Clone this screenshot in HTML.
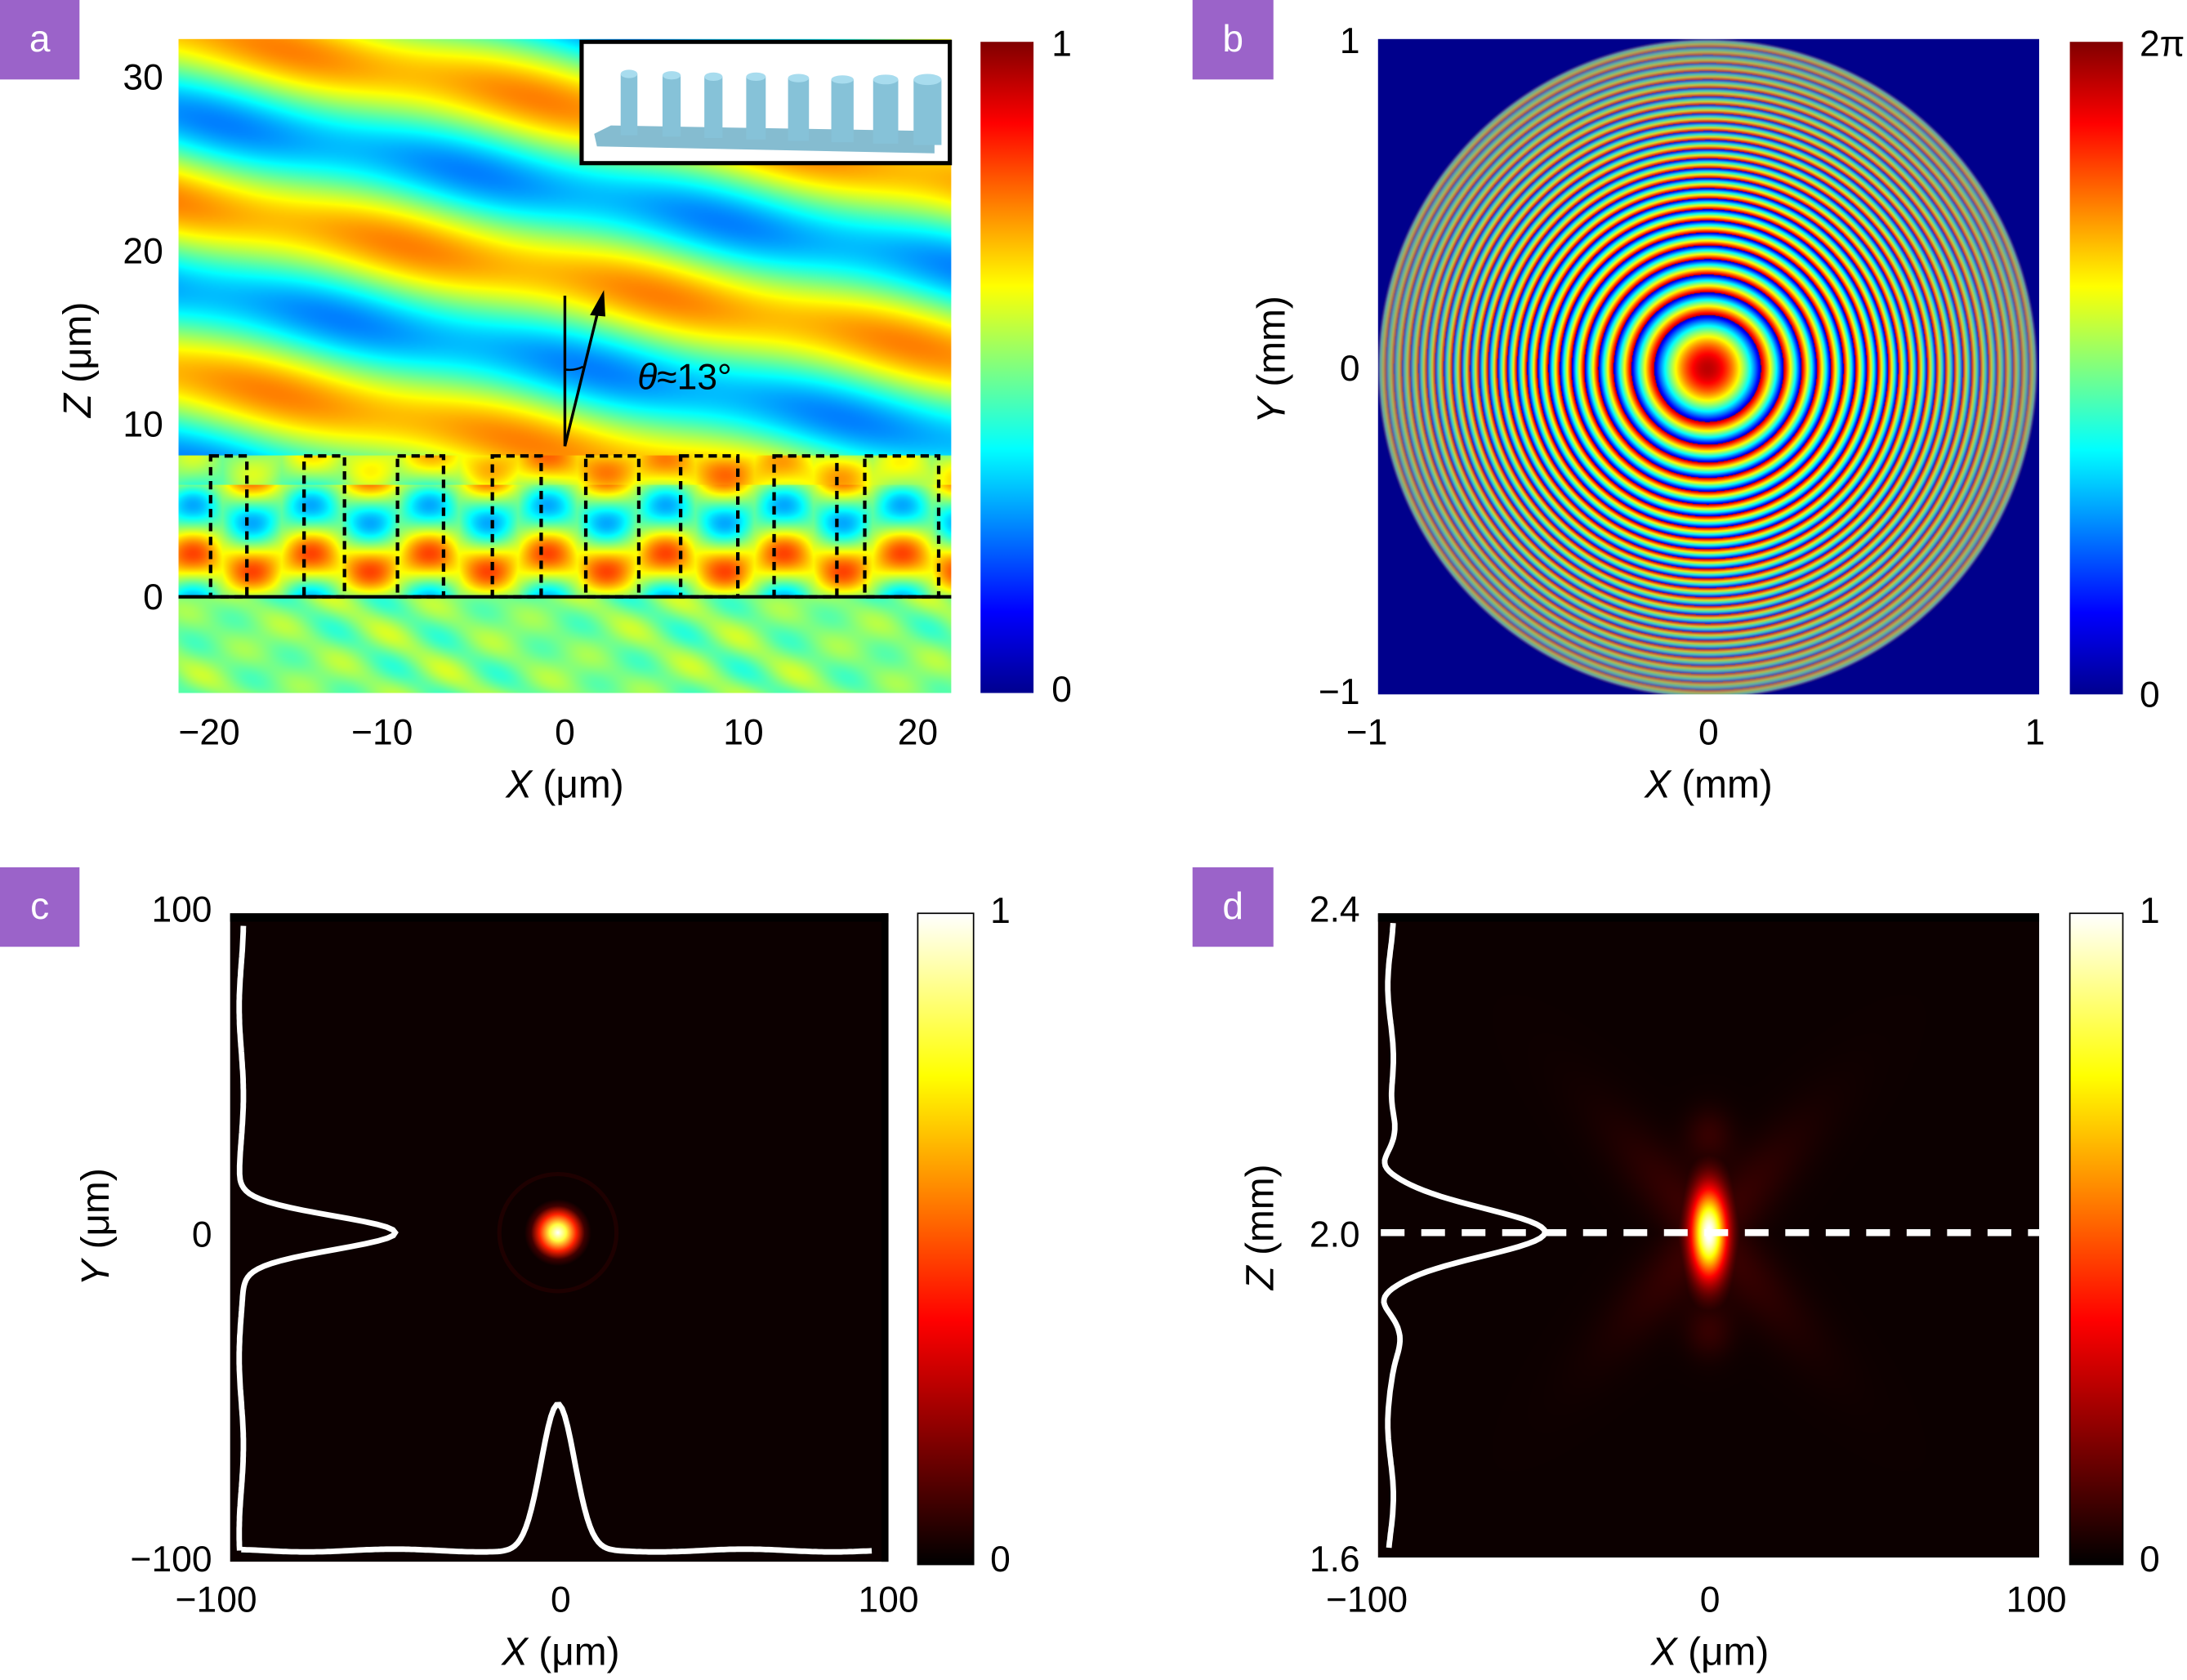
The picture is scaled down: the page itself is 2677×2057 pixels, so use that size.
<!DOCTYPE html>
<html><head><meta charset="utf-8"><style>
html,body{margin:0;padding:0;background:#fff;width:2677px;height:2057px;overflow:hidden}
#w{position:absolute;left:0;top:0;width:1568px;height:1205px;transform:scale(1.70727);transform-origin:0 0;font-family:"Liberation Sans",Arial,sans-serif}
canvas{position:absolute}
svg{position:absolute;left:0;top:0}
</style></head><body><div id="w">
<canvas id="ca" style="left:128px;top:28px;width:554px;height:469px" width="946" height="801"></canvas>
<canvas id="cb" style="left:988px;top:28px;width:474px;height:470px" width="809" height="802"></canvas>
<canvas id="cd" style="left:988px;top:655px;width:474px;height:462px" width="809" height="789"></canvas>
<svg width="1568" height="1205" viewBox="0 0 1568 1205">
<defs>
<linearGradient id="jet" x1="0" y1="1" x2="0" y2="0">
<stop offset="0" stop-color="#00008f"/><stop offset="0.125" stop-color="#0000ff"/><stop offset="0.375" stop-color="#00ffff"/><stop offset="0.625" stop-color="#ffff00"/><stop offset="0.875" stop-color="#ff0000"/><stop offset="1" stop-color="#800000"/></linearGradient>
<linearGradient id="hot" x1="0" y1="1" x2="0" y2="0">
<stop offset="0" stop-color="#000"/><stop offset="0.375" stop-color="#ff0000"/><stop offset="0.75" stop-color="#ffff00"/><stop offset="1" stop-color="#fff"/></linearGradient>
<radialGradient id="spot"><stop offset="0" stop-color="#fff"/><stop offset="0.25" stop-color="#ffff40"/><stop offset="0.55" stop-color="#ff2000"/><stop offset="0.8" stop-color="#400000"/><stop offset="1" stop-color="#0c0000"/></radialGradient>
</defs>
<g font-size="26" fill="#000">
<!-- panel a -->
<rect x="0" y="0" width="57" height="57" fill="#9b63c9"/><text x="28.5" y="37" fill="#fff" text-anchor="middle" font-size="27">a</text>
<g stroke="#000" stroke-width="2.5" stroke-dasharray="6,4" fill="none">
<rect x="151" y="327" width="26" height="101"/><rect x="218" y="327" width="29" height="101"/><rect x="285" y="327" width="33" height="101"/><rect x="353" y="327" width="35" height="101"/><rect x="420" y="327" width="38" height="101"/><rect x="488" y="327" width="41" height="101"/><rect x="555" y="327" width="45" height="101"/><rect x="620" y="327" width="53" height="101"/></g>
<line x1="128" y1="428" x2="682" y2="428" stroke="#000" stroke-width="2.5"/>
<rect x="417" y="30" width="264" height="87" fill="#fff" stroke="#000" stroke-width="3"/>
<polygon points="426,96 438,90 670,94 670,110 428,105" fill="#85bcd0"/>
<g fill="#86c2d8"><rect x="445" y="53" width="12" height="44"/><rect x="475" y="54" width="13" height="44"/><rect x="505" y="55" width="13" height="44"/><rect x="535" y="55" width="14" height="45"/><rect x="565" y="56" width="15" height="45"/><rect x="596" y="57" width="16" height="45"/><rect x="626" y="57" width="18" height="46"/><rect x="655" y="57" width="20" height="47"/></g>
<g fill="#a8dcee"><ellipse cx="451" cy="53" rx="6" ry="3"/><ellipse cx="481.5" cy="54" rx="6.5" ry="3"/><ellipse cx="511.5" cy="55" rx="6.5" ry="3"/><ellipse cx="542" cy="55" rx="7" ry="3"/><ellipse cx="572.5" cy="56" rx="7.5" ry="3"/><ellipse cx="604" cy="57" rx="8" ry="3"/><ellipse cx="635" cy="57" rx="9" ry="3.5"/><ellipse cx="665" cy="57" rx="10" ry="4"/></g>
<line x1="405" y1="320" x2="405" y2="212" stroke="#000" stroke-width="2"/>
<line x1="405" y1="320" x2="429" y2="222" stroke="#000" stroke-width="2"/>
<polygon points="433,208 423,226 434,227" fill="#000"/>
<path d="M405,265 Q412,266 418,263" stroke="#000" stroke-width="1.5" fill="none"/>
<text x="457" y="279"><tspan font-style="italic">θ</tspan>≈13°</text>
<rect x="703" y="30" width="38" height="467" fill="url(#jet)"/>
<text x="754" y="40">1</text><text x="754" y="503">0</text>
<g text-anchor="end"><text x="117" y="64">30</text><text x="117" y="189">20</text><text x="117" y="313">10</text><text x="117" y="437">0</text></g>
<g text-anchor="middle"><text x="150" y="534">−20</text><text x="274" y="534">−10</text><text x="405" y="534">0</text><text x="533" y="534">10</text><text x="658" y="534">20</text>
<text x="405" y="572" font-size="28"><tspan font-style="italic">X</tspan> (μm)</text>
<text transform="translate(65,258) rotate(-90)" font-size="28"><tspan font-style="italic">Z</tspan> (μm)</text></g>
<!-- panel b -->
<rect x="855" y="0" width="58" height="57" fill="#9b63c9"/><text x="884" y="37" fill="#fff" text-anchor="middle" font-size="27">b</text>
<rect x="1484" y="30" width="38" height="468" fill="url(#jet)"/>
<text x="1534" y="40">2π</text><text x="1534" y="507">0</text>
<g text-anchor="end"><text x="975" y="38">1</text><text x="975" y="273">0</text><text x="975" y="505">−1</text></g>
<g text-anchor="middle"><text x="980" y="534">−1</text><text x="1225" y="534">0</text><text x="1459" y="534">1</text>
<text x="1225" y="572" font-size="28"><tspan font-style="italic">X</tspan> (mm)</text>
<text transform="translate(921,258) rotate(-90)" font-size="28"><tspan font-style="italic">Y</tspan> (mm)</text></g>
<!-- panel c -->
<rect x="0" y="622" width="57" height="57" fill="#9b63c9"/><text x="28.5" y="659" fill="#fff" text-anchor="middle" font-size="27">c</text>
<rect x="165" y="655" width="472" height="465" fill="#0c0000"/>
<rect x="165" y="655" width="472" height="6" fill="#000"/><rect x="632" y="655" width="5" height="465" fill="#000"/>
<circle cx="400" cy="884" r="42" fill="none" stroke="#1e0000" stroke-width="3"/>
<circle cx="400" cy="884" r="24" fill="url(#spot)"/>
<path id="pcv" fill="none" stroke="#fff" stroke-width="4"/>
<path id="pch" fill="none" stroke="#fff" stroke-width="4"/>
<rect x="658" y="655" width="40" height="467" fill="url(#hot)" stroke="#000" stroke-width="1"/>
<text x="710" y="662">1</text><text x="710" y="1127">0</text>
<g text-anchor="end"><text x="152" y="661">100</text><text x="152" y="894">0</text><text x="152" y="1127">−100</text></g>
<g text-anchor="middle"><text x="155" y="1156">−100</text><text x="402" y="1156">0</text><text x="637" y="1156">100</text>
<text x="402" y="1194" font-size="28"><tspan font-style="italic">X</tspan> (μm)</text>
<text transform="translate(78,880) rotate(-90)" font-size="28"><tspan font-style="italic">Y</tspan> (μm)</text></g>
<!-- panel d -->
<rect x="855" y="622" width="58" height="57" fill="#9b63c9"/><text x="884" y="659" fill="#fff" text-anchor="middle" font-size="27">d</text>
<rect x="988" y="655" width="474" height="6" fill="#000"/>
<line x1="990" y1="884" x2="1462" y2="884" stroke="#fff" stroke-width="5" stroke-dasharray="17,12"/>
<path id="pdv" fill="none" stroke="#fff" stroke-width="4"/>
<rect x="1484" y="655" width="38" height="467" fill="url(#hot)" stroke="#000" stroke-width="1"/>
<text x="1534" y="662">1</text><text x="1534" y="1127">0</text>
<g text-anchor="end"><text x="975" y="661">2.4</text><text x="975" y="894">2.0</text><text x="975" y="1127">1.6</text></g>
<g text-anchor="middle"><text x="980" y="1156">−100</text><text x="1226" y="1156">0</text><text x="1460" y="1156">100</text>
<text x="1226" y="1194" font-size="28"><tspan font-style="italic">X</tspan> (μm)</text>
<text transform="translate(913,880) rotate(-90)" font-size="28"><tspan font-style="italic">Z</tspan> (mm)</text></g>
</g></svg></div>
<script>
function jet(v){v=Math.max(0,Math.min(1,v));var r=Math.min(4*v-1.5,-4*v+4.5),g=Math.min(4*v-0.5,-4*v+3.5),b=Math.min(4*v+0.5,-4*v+2.5);
return [255*Math.max(0,Math.min(1,r)),255*Math.max(0,Math.min(1,g)),255*Math.max(0,Math.min(1,b))];}
function hot(v){v=Math.max(0,Math.min(1,v));return [255*Math.min(1,v/0.375),255*Math.max(0,Math.min(1,(v-0.375)/0.375)),255*Math.max(0,(v-0.75)/0.25)];}
// panel a
(function(){var c=document.getElementById('ca'),W=c.width,H=c.height,x=c.getContext('2d'),im=x.createImageData(W,H),d=im.data;
function wave(X,z){var u=z+0.2*X;return 0.5+0.22*Math.cos(2*Math.PI*(u-8.5)/10)+0.03*Math.sin(X*0.5+z*0.3);}
for(var j=0;j<H;j++){var py=j/H*469+28;var z=(428-py)/12.4;
for(var i=0;i<W;i++){var px=i/W*554+128;var X=(px-405)/12.65;var v;
if(z>8.2){v=wave(X,z);}
else if(z>0){var ph=Math.cos(2*Math.PI*(X+1)/6.7);v=0.55+0.36*(0.6*Math.cos(2*Math.PI*(z-2)/5.6)*(0.4+0.6*Math.abs(ph))+0.4*ph*Math.sin(2*Math.PI*(z-2)/5.6));
if(z>6.5)v=v*0.6+0.4*wave(X,z);}
else{v=0.5+0.05*Math.cos(2*Math.PI*X/6.7)*Math.cos(z*1.5)+0.04*Math.sin(X*1.3+z*2);}
var col=jet(v),k=4*(j*W+i);d[k]=col[0];d[k+1]=col[1];d[k+2]=col[2];d[k+3]=255;}}
x.putImageData(im,0,0);})();
// panel b
(function(){var c=document.getElementById('cb'),W=c.width,H=c.height,x=c.getContext('2d'),im=x.createImageData(W,H),d=im.data;
var f=150,lam=1444/(2*f);
for(var j=0;j<H;j++){var py=j/H*470+28;for(var i=0;i<W;i++){var px=i/W*474+988;var dx=px-1224,dy=py-264,r=Math.sqrt(dx*dx+dy*dy);var k=4*(j*W+i),col;
if(r>237){col=[0,0,140];}else{var p=(Math.sqrt(r*r+f*f)-f)/lam;var ph=1-(p%1);ph=ph*0.88+0.06;col=jet(ph);var m=Math.max(0,Math.min(1,(r-100)/137));m=Math.pow(m,1.5)*0.75;
col=[col[0]*(1-m)+138*m,col[1]*(1-m)+140*m,col[2]*(1-m)+125*m];if(r>235){var t=(r-235)/2;col=[col[0]*(1-t),col[1]*(1-t),col[2]*(1-t)+140*t];}}
d[k]=col[0];d[k+1]=col[1];d[k+2]=col[2];d[k+3]=255;}}
x.putImageData(im,0,0);})();
// panel d
(function(){var c=document.getElementById('cd'),W=c.width,H=c.height,x=c.getContext('2d'),im=x.createImageData(W,H),d=im.data;
for(var j=0;j<H;j++){var py=j/H*462+655;for(var i=0;i<W;i++){var px=i/W*474+988;var dx=px-1225,dy=py-884;
var v=Math.exp(-(dx*dx)/(2*9*9)-(dy*dy)/(2*22*22));
var ad=Math.abs(Math.abs(dx)-Math.abs(dy)*0.9);var cr=0.07*Math.exp(-ad*ad/(2*22*22))*Math.exp(-(dx*dx+dy*dy)/(2*70*70));
var side=0.06*Math.exp(-(dx*dx)/(2*12*12)-Math.pow(Math.abs(dy)-70,2)/(2*14*14));
v=Math.max(v,cr+side)+0.018;
var col=hot(v);var k=4*(j*W+i);d[k]=col[0];d[k+1]=col[1];d[k+2]=col[2];d[k+3]=255;}}
x.putImageData(im,0,0);})();
// curves
(function(){var s='';for(var y=664;y<=1112;y+=2){var t=y-884;var xv=173+110*Math.exp(-t*t/(2*12*12))+1.5*Math.sin(y*0.05);s+=(s?'L':'M')+xv.toFixed(1)+','+y;}
document.getElementById('pcv').setAttribute('d',s);
s='';for(var xx=173;xx<=625;xx+=2){var t=xx-400;var yv=1112-104*Math.exp(-t*t/(2*12*12))-1*Math.sin(xx*0.05);s+=(s?'L':'M')+xx+','+yv.toFixed(1);}
document.getElementById('pch').setAttribute('d',s);
s='';for(var y=662;y<=1110;y+=2){var t=y-884;var xv=997+110*Math.exp(-t*t/(2*17*17))-6*Math.exp(-Math.pow(Math.abs(t)-48,2)/(2*8*8))+5*Math.exp(-Math.pow(Math.abs(t)-75,2)/(2*12*12))+2*Math.sin(y*0.06);s+=(s?'L':'M')+xv.toFixed(1)+','+y;}
document.getElementById('pdv').setAttribute('d',s);})();
</script></body></html>
